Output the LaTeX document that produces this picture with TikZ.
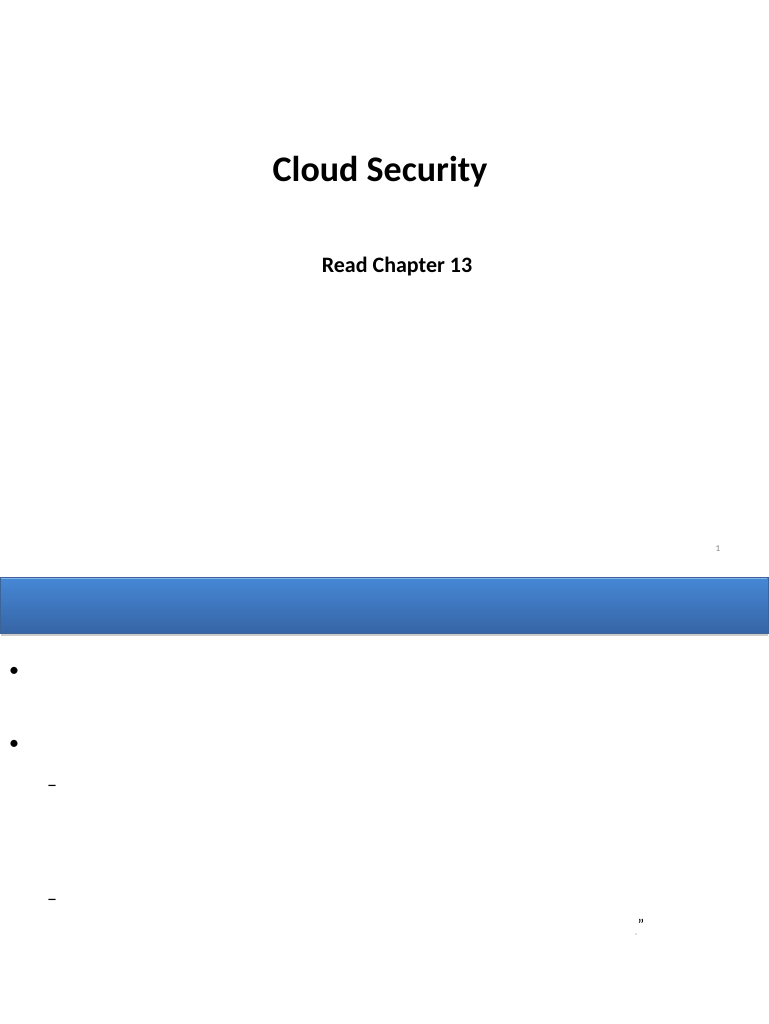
\documentclass[tikz,border=0pt]{standalone}
\usepackage{fontspec}
\setmainfont{Carlito}
\definecolor{bartop}{RGB}{70,136,214}
\definecolor{barbot}{RGB}{54,101,165}
\definecolor{barline}{RGB}{60,100,150}
\definecolor{barhi}{RGB}{130,180,235}
\begin{document}
\begin{tikzpicture}[x=1pt,y=-1pt,
  title/.style={font=\bfseries\fontsize{36}{40}\selectfont,inner sep=0},
  sub/.style={font=\bfseries\fontsize{22}{26}\selectfont,inner sep=0},
  bulletmark/.style={font=\fontsize{20}{24}\selectfont,inner sep=0}]
\useasboundingbox[fill=white] (0,0) rectangle (768,1024);
\node[title] (t) at (380,172) {Cloud Security};
\node[sub] (s) at (397,267) {Read Chapter 13};
\node[font=\fontsize{9}{10}\selectfont,text=gray,inner sep=0] (pg) at (718,549) {1};
\fill[gray!40] (1,580) rectangle (768,636);
\shade[top color=bartop,bottom color=barbot,draw=barline] (0,577) rectangle (768,633);
\draw[barhi,line width=1pt] (1,578.5) -- (767,578.5);
\node[bulletmark] (b1) at (14,672) {•};
\node[bulletmark] (b2) at (14,745) {•};
\node[bulletmark] (d1) at (52,788) {–};
\node[bulletmark] (d2) at (52,902) {–};
\node[font=\fontsize{16}{18}\selectfont,inner sep=0] (q) at (641,925) {”};
\fill[gray!50] (636,934) circle (0.8);
\end{tikzpicture}
\end{document}
